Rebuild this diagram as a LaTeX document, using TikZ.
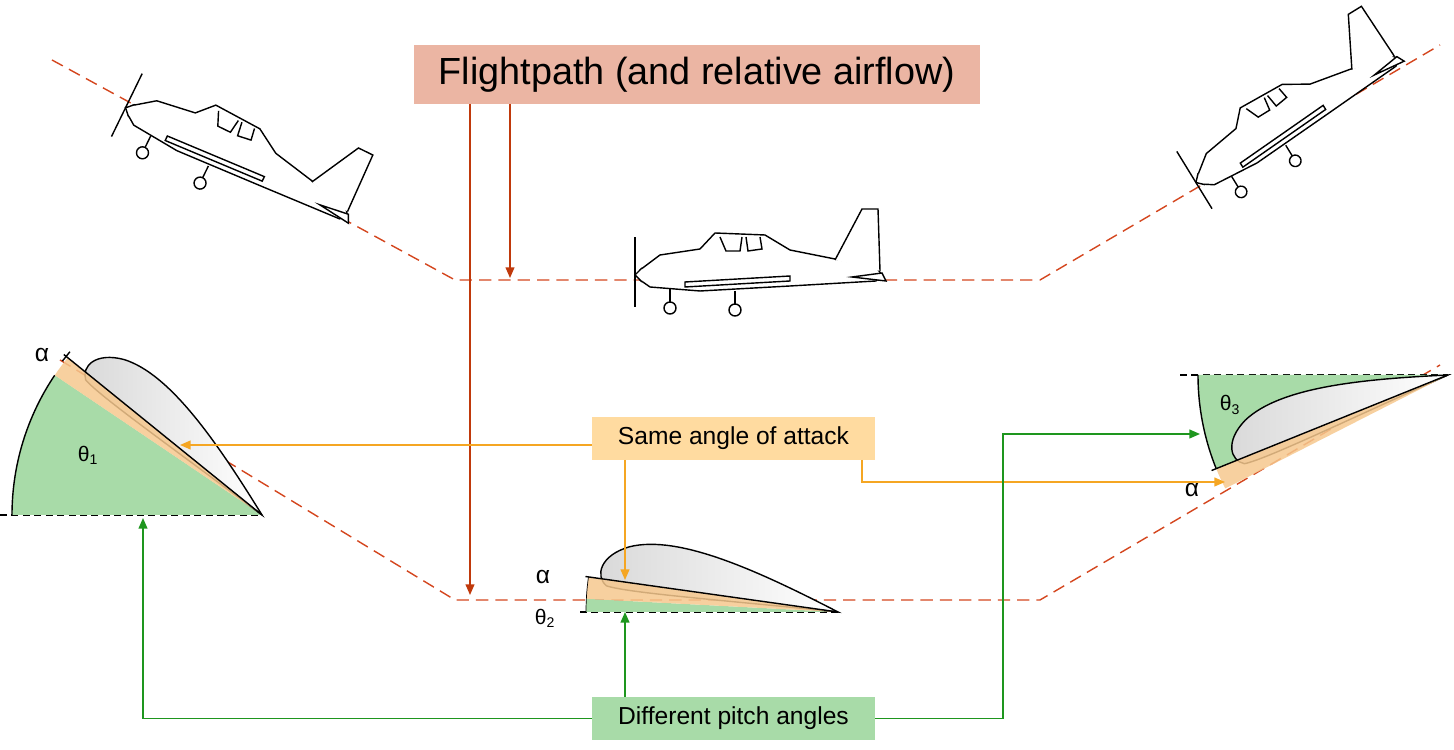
\documentclass[tikz,border=0pt]{standalone}
\usepackage{fontspec}
\setmainfont{Liberation Sans}
\usetikzlibrary{arrows.meta}
\definecolor{pathred}{HTML}{D4461E}
\definecolor{arrred}{HTML}{C0390B}
\definecolor{arrorange}{HTML}{F5A623}
\definecolor{arrgreen}{HTML}{1E961E}
\definecolor{pitchgreen}{HTML}{A8DBA8}
\definecolor{aoaorange}{HTML}{F6C88E}
\definecolor{titlebox}{HTML}{EBB5A3}
\definecolor{aoabox}{HTML}{FFDBA0}
\begin{document}
\begin{tikzpicture}[x=0.02cm,y=0.02cm,
    flight/.style={pathred,thick,dash pattern=on 7pt off 4pt},
    level/.style={black,thick,dash pattern=on 4pt off 2.5pt},
    pointer/.style={thick,-{Triangle[length=6pt,width=5pt]}},
    label box/.style={inner sep=0pt,minimum height=43*0.02cm,minimum width=283*0.02cm,font=\fontsize{14}{16}\selectfont},
    angle label/.style={font=\fontsize{14}{16}\selectfont},
    pitch label/.style={font=\fontsize{12}{14}\selectfont},
    airfoil/.pic={
      \draw[fill=white,left color=gray!30,right color=white,thick]
        (0,0) .. controls (-80,28) and (-160,52) .. (-205,34)
        .. controls (-232,22) and (-234,2) .. (-222,-6)
        .. controls (-200,-10) and (-110,-4) .. (0,0) -- cycle;
    },
    plane/.pic={
      \draw[thick,fill=white] (0,5) -- (20,20) -- (60,26) -- (75,42) -- (125,40)
        -- (150,25) -- (200,15) -- (236,8) -- (242,0) -- (236,-6) -- (150,-11)
        -- (60,-16) -- (10,-12) -- (0,-5) -- cycle;
      \draw[thick,fill=white] (195,15) -- (222,66) -- (238,66) -- (240,4);
      \draw[thick,fill=white] (212,-2) -- (246,-6) -- (242,2) -- cycle;
      \draw[thick,fill=white] (45,-12) -- (150,-6) -- (150,-1) -- (45,-7) -- cycle;
      \draw[thick] (80,38) -- (86,24) -- (100,24) -- (102,38)
        (106,38) -- (108,24) -- (122,26) -- (120,38);
      \draw[thick] (-5,-32) -- (-5,38);
      \draw[thick,fill=white] (2,-7) -- (-5,0) -- (2,7);
      \draw[thick] (30,-14) -- (30,-28) (95,-16) -- (95,-30);
      \draw[thick,fill=white] (30,-33) circle (6) (95,-35) circle (6);
    }]
  \useasboundingbox (0,0) rectangle (1454,750);

  % Flight paths.
  \draw[flight] (52,690) -- (455,470) -- (1040,470) -- (1440,705);
  \draw[flight] (60,390) -- (455,150) -- (1040,150) -- (1440,385);

  % Planes.
  \pic[rotate=-26] at (130,640) {plane};
  \pic at (640,475) {plane};
  \pic[rotate=31.6,scale=0.96] at (1200,570) {plane};

  % First airfoil (descending).
  \coordinate (T1) at (262,235);
  \draw[level] (0,235) -- (T1);
  \fill[pitchgreen] (T1) -- ++(180:250) arc (180:146:250) -- cycle;
  \draw[thick] (T1) ++(180:250) arc (180:146:250);
  \pic[rotate=-39] at (T1) {airfoil};
  \fill[aoaorange,opacity=0.85] (T1) -- ++(146:250) arc (146:141:250) -- cycle;
  \draw[thick] (T1) -- ++(141:255) ++(141:-3) -- ++(51:6) ++(51:-12) -- ++(51:6);
  \node[angle label] (A1) at (42,395) {α};
  \node[pitch label] (P1) at (88,295) {θ\textsubscript{1}};

  % Second airfoil (level).
  \coordinate (T2) at (838,138);
  \draw[level] (580,138) -- (T2);
  \fill[pitchgreen] (T2) -- ++(180:252) arc (180:177:252) -- cycle;
  \pic[rotate=-8,scale=1.05] at (T2) {airfoil};
  \fill[aoaorange,opacity=0.85] (T2) -- ++(177:252) arc (177:172:252) -- cycle;
  \draw[thick] (T2) -- ++(172:255);
  \draw[thin] (T2) ++(180:252) arc (180:172:252);
  \node[angle label] (A2) at (543,173) {α};
  \node[pitch label] (P2) at (545,132) {θ\textsubscript{2}};

  % Third airfoil (climbing).
  \coordinate (T3) at (1448,375);
  \draw[level] (1180,375) -- (T3);
  \fill[pitchgreen] (T3) -- ++(180:250) arc (180:202:250) -- cycle;
  \draw[thick] (T3) ++(180:250) arc (180:202:250);
  \pic[rotate=22] at (T3) {airfoil};
  \fill[aoaorange,opacity=0.85] (T3) -- ++(202:250) arc (202:207:250) -- cycle;
  \draw[thick] (T3) -- ++(202:255);
  \node[angle label] (A3) at (1192,260) {α};
  \node[pitch label] (P3) at (1230,345) {θ\textsubscript{3}};

  % Boxes.
  \node[fill=titlebox,inner sep=0pt,minimum width=566*0.02cm,minimum height=59*0.02cm,
    font=\fontsize{21.5}{24}\selectfont] (title) at (697,675) {Flightpath (and relative airflow)};
  \node[label box,fill=aoabox] (aoa) at (733.5,311.5) {Same angle of attack};
  \node[label box,fill=pitchgreen] (pitch) at (733.5,31.5) {Different pitch angles};

  % Arrows from the title.
  \draw[pointer,arrred] (470,646) -- (470,155);
  \draw[pointer,arrred] (510,646) -- (510,472);

  % Arrows for the angle of attack.
  \draw[pointer,arrorange] (aoa.west |- 0,305) -- (180,305);
  \draw[pointer,arrorange] (625,290) -- (625,170);
  \draw[pointer,arrorange] (862,290) -- (862,268) -- (1225,268);

  % Arrows for the pitch angles.
  \draw[pointer,arrgreen] (pitch.west) -- (143,31.5) -- (143,232);
  \draw[pointer,arrgreen] (625,53) -- (625,138);
  \draw[pointer,arrgreen] (pitch.east) -- (1003,31.5) -- (1003,316) -- (1200,316);
\end{tikzpicture}
\end{document}
